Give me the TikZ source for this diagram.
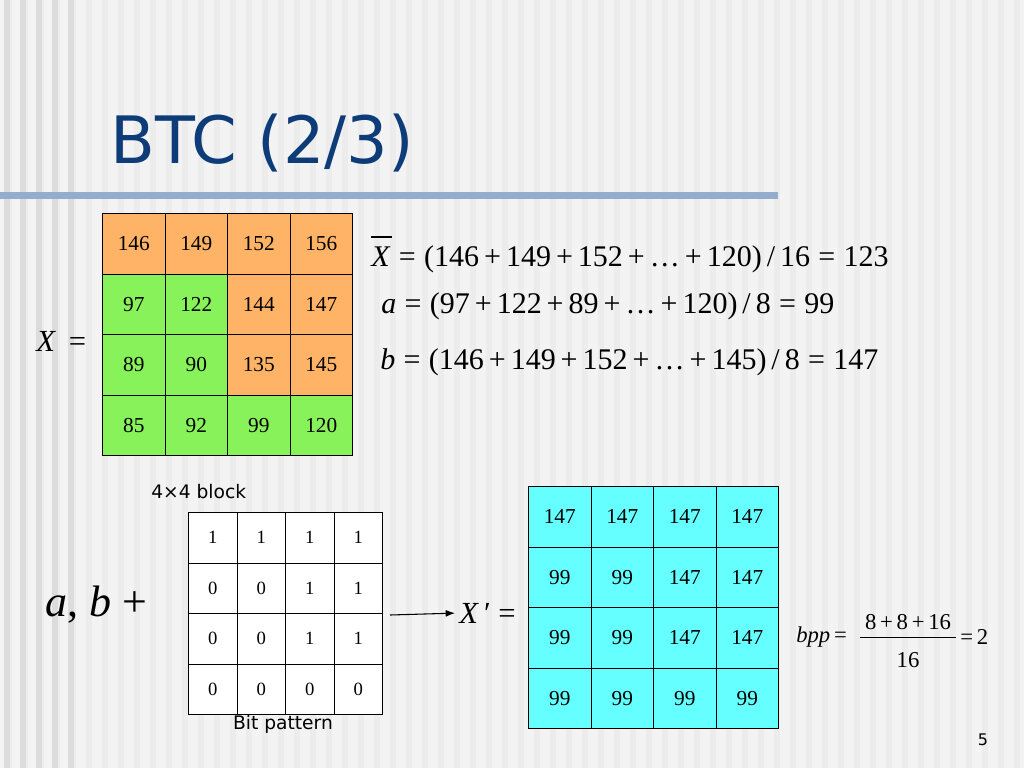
\documentclass[tikz,border=0pt]{standalone}
\usepackage{fontspec}
\setmainfont{Liberation Serif}
\newfontfamily\titlefont{DejaVu Sans}
\usetikzlibrary{arrows.meta}
\definecolor{bg}{HTML}{F3F3F3}
\definecolor{stripe}{HTML}{ECECEC}
\definecolor{dstripe}{HTML}{DCDCDC}
\definecolor{band}{HTML}{93AECD}
\definecolor{ttl}{HTML}{0E3C78}
\definecolor{org}{HTML}{FFB366}
\definecolor{grn}{HTML}{88F25A}
\definecolor{cyn}{HTML}{66FFFF}
\newcommand{\pl}{\,+\,}
\newcommand{\eqs}{\;=\;}
\tikzset{
 cell/.style={draw=black, line width=0.8pt, minimum width=#1, anchor=north west, inner sep=0pt, font=\fontsize{16}{18}\selectfont},
 eq/.style={anchor=west, inner sep=0pt, font=\fontsize{22.5}{26}\selectfont},
}
\begin{document}
\begin{tikzpicture}[x=0.75pt,y=-0.75pt]
\fill[bg] (0,0) rectangle (1024,768);
\foreach \i in {0,16,...,1016} {\fill[stripe] (\i+6,0) rectangle (\i+12,768);}
\foreach \i in {0,16,...,64} {\fill[dstripe] (\i+4,0) rectangle (\i+10,768);}
\useasboundingbox (0,0) rectangle (1024,768);
\fill[band] (0,192) rectangle (778,199);
\node[anchor=west, text=ttl, font=\titlefont\fontsize{49}{52}\selectfont, inner sep=0pt] (title) at (110,143) {BTC (2/3)};
% matrix X
\def\cw{62.5}\def\rh{60.5}\def\gg{g}
\foreach \r/\row in {0/{146/o,149/o,152/o,156/o},1/{97/g,122/g,144/o,147/o},2/{89/g,90/g,135/o,145/o},3/{85/g,92/g,99/g,120/g}} {
  \foreach \v/\c [count=\k from 0] in \row {
    \ifx\c\gg \def\fc{grn}\else\def\fc{org}\fi
    \node[cell=46.9pt, minimum height=45.4pt, fill=\fc] (x\r\k) at (102+\k*\cw,213+\r*\rh) {\v};
  }
}
\node[eq, font=\fontsize{23}{26}\selectfont] (xeq) at (36,341) {\textit{X} \,=};
% equations
\node[eq] (e1) at (371,259) {\textit{X}\eqs(146\pl149\pl152\pl…\pl120)\,/\,16\eqs123};
\draw[line width=0.9pt] (371,237) -- (392,237);
\node[eq] (e2) at (381,306) {\textit{a}\eqs(97\pl122\pl89\pl…\pl120)\,/\,8\eqs99};
\node[eq] (e3) at (380,362) {\textit{b}\eqs(146\pl149\pl152\pl…\pl145)\,/\,8\eqs147};
% bit pattern
\node[anchor=west, inner sep=0pt, font=\titlefont\fontsize{14}{16}\selectfont] (blk) at (151,492) {4×4 block};
\foreach \r/\row in {0/{1,1,1,1},1/{0,0,1,1},2/{0,0,1,1},3/{0,0,0,0}} {
  \foreach \v [count=\k from 0] in \row {
    \node[cell=36.4pt, minimum height=37.9pt, fill=white, font=\fontsize{14}{16}\selectfont] (b\r\k) at (188+\k*48.5,512+\r*50.5) {\v};
  }
}
\node[anchor=north, inner sep=0pt, font=\titlefont\fontsize{14}{16}\selectfont] (bp) at (283,715) {Bit pattern};
\node[eq, font=\fontsize{33}{36}\selectfont] (ab) at (45,605) {\textit{a}, \textit{b} +};
% arrow and X'
\coordinate (as) at (390,615);
\node[eq, font=\fontsize{23}{26}\selectfont] (xp) at (459,613) {\textit{X}\,′ =};
\draw[-{Latex[length=7pt]}, line width=0.8pt, shorten >=3pt] (as) -- (xp.west);
\foreach \r/\row in {0/{147,147,147,147},1/{99,99,147,147},2/{99,99,147,147},3/{99,99,99,99}} {
  \foreach \v [count=\k from 0] in \row {
    \node[cell=46.9pt, minimum height=45.4pt, fill=cyn] (p\r\k) at (528+\k*\cw,486+\r*\rh) {\v};
  }
}
% bpp
\node[eq, font=\fontsize{17}{20}\selectfont] (bpp) at (796,637) {\textit{bpp}\,=};
\node[inner sep=0pt, font=\fontsize{17}{20}\selectfont] (num) at (908,622) {8\pl8\pl16};
\node[inner sep=0pt, font=\fontsize{17}{20}\selectfont] (den) at (908,660) {16};
\draw[line width=0.6pt] (860,637) -- (956,637);
\node[eq, font=\fontsize{17}{20}\selectfont] (two) at (960,637) {=\,2};
\node[inner sep=0pt, font=\titlefont\fontsize{12}{14}\selectfont] (pg) at (983,740) {5};
\end{tikzpicture}
\end{document}
